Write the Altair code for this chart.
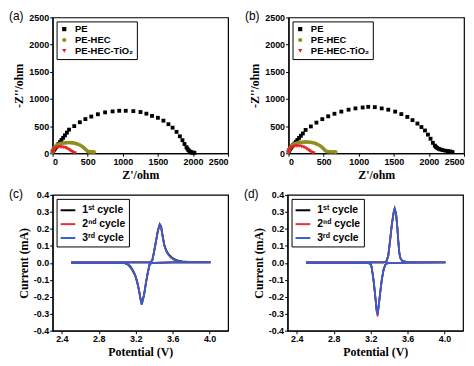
import altair as alt
import pandas as pd

# ---------------- Nyquist data (a) ----------------
a_pe_x = [0, 5, 12, 22, 35, 50, 66, 84, 104, 126, 150, 176, 204, 234, 308, 388, 467, 551, 645, 748, 855, 949, 1042,
          1150, 1252, 1336, 1416, 1500, 1579, 1650, 1710, 1766, 1813, 1850, 1879, 1907, 1920, 1935, 1950, 1963, 1975,
          1990, 2005, 2020]
a_pe_y = [30, 40, 52, 68, 88, 112, 140, 172, 205, 245, 285, 330, 380, 435, 500, 571, 629, 676, 718, 753, 771, 782, 782,
          776, 759, 729, 688, 653, 600, 535, 471, 394, 312, 241, 171, 112, 85, 59, 38, 24, 16, 12, 10, 9]
a_hec_x = [0, 5, 12, 22, 35, 50, 68, 88, 110, 135, 160, 185, 210, 240, 270, 300, 330, 360, 390, 415, 440, 460, 480,
           495, 510, 530, 550, 570, 590]
a_hec_y = [20, 45, 70, 95, 118, 138, 155, 168, 178, 186, 191, 194, 196, 196, 194, 189, 180, 167, 150, 132, 108, 85, 58,
           40, 30, 28, 27, 26, 24]
a_ti_x = [0, 5, 12, 22, 35, 50, 68, 88, 110, 132, 155, 178, 200, 220, 240, 258, 275, 290, 305, 320]
a_ti_y = [15, 35, 55, 72, 87, 98, 107, 112, 115, 114, 110, 102, 90, 77, 60, 44, 30, 18, 8, 3]

# ---------------- Nyquist data (b) ----------------
b_pe_x = [0, 5, 12, 22, 35, 50, 66, 84, 104, 126, 150, 176, 204, 243, 318, 397, 481, 565, 654, 752, 855, 953, 1056,
          1135, 1229, 1327, 1421, 1519, 1607, 1692, 1766, 1836, 1893, 1944, 1986, 2023, 2056, 2084, 2100, 2117, 2140,
          2164, 2195, 2234, 2270, 2304, 2336]
b_pe_y = [30, 45, 60, 80, 100, 125, 152, 180, 212, 245, 282, 322, 365, 430, 494, 564, 628, 680, 727, 767, 802, 826, 843,
          855, 849, 826, 802, 767, 721, 669, 610, 547, 483, 419, 343, 267, 192, 140, 118, 99, 82, 70, 58, 47, 40, 35,
          23]
b_hec_x = [0, 5, 12, 22, 35, 50, 70, 92, 115, 140, 170, 200, 230, 262, 295, 325, 355, 385, 415, 445, 470, 495, 515,
           535, 560, 590, 620, 650, 670]
b_hec_y = [25, 50, 75, 100, 122, 142, 160, 175, 186, 195, 201, 205, 207, 207, 205, 200, 192, 180, 163, 142, 118, 90, 62,
           40, 30, 28, 27, 26, 24]
b_ti_x = [0, 5, 12, 22, 35, 50, 68, 88, 110, 135, 160, 185, 210, 235, 258, 280, 300, 320, 340, 360]
b_ti_y = [15, 38, 60, 80, 97, 110, 120, 127, 131, 132, 130, 124, 113, 98, 80, 60, 42, 25, 12, 4]

nyq_series = ["PE", "PE-HEC", "PE-HEC-TiO\u2082"]
nyq_colors = ["#000000", "#8f8f1f", "#e32222"]
nyq_shapes = ["square", "circle", "triangle-down"]
nyq_ticks = [0, 500, 1000, 1500, 2000, 2500]

# ---------------- CV data (c) ----------------
cycles = ["1\u02e2\u1d57 cycle", "2\u207f\u1d48 cycle", "3\u02b3\u1d48 cycle"]
cycle_colors = ["#000000", "#e8303a", "#2f5fd0"]

c1_v = [2.50, 3.00, 3.30, 3.36, 3.38, 3.40, 3.42, 3.44, 3.46, 3.475, 3.49, 3.51, 3.53, 3.55, 3.58, 3.61, 3.65, 3.70,
        3.80, 4.00, 4.00, 3.60, 3.40, 3.36, 3.35, 3.33, 3.31, 3.29, 3.265, 3.25, 3.235, 3.22, 3.20, 3.18, 3.16, 3.14,
        3.12, 3.10, 3.08, 3.00, 2.50]
c1_i = [0.002, 0.002, 0.002, 0.004, 0.016, 0.07, 0.13, 0.19, 0.228, 0.215, 0.165, 0.105, 0.075, 0.055, 0.036, 0.024,
        0.015, 0.008, 0.004, 0.004, 0.003, 0.002, 0.0, -0.003, -0.01, -0.06, -0.12, -0.19, -0.24, -0.205, -0.16, -0.125,
        -0.085, -0.06, -0.04, -0.024, -0.013, -0.006, -0.002, 0.0, 0.0]
c2_v = [2.50, 3.00, 3.30, 3.36, 3.38, 3.40, 3.42, 3.44, 3.46, 3.475, 3.49, 3.51, 3.53, 3.55, 3.58, 3.61, 3.65, 3.70,
        3.80, 4.00, 4.00, 3.60, 3.40, 3.36, 3.35, 3.33, 3.31, 3.29, 3.265, 3.25, 3.235, 3.22, 3.20, 3.18, 3.16, 3.14,
        3.12, 3.10, 3.08, 3.00, 2.50]
c2_i = [0.002, 0.002, 0.002, 0.004, 0.015, 0.068, 0.128, 0.188, 0.224, 0.21, 0.16, 0.10, 0.07, 0.05, 0.032, 0.02,
        0.012, 0.006, 0.004, 0.004, 0.003, 0.002, 0.0, -0.003, -0.01, -0.06, -0.12, -0.19, -0.248, -0.21, -0.16, -0.12,
        -0.08, -0.055, -0.035, -0.02, -0.01, -0.004, -0.001, 0.0, 0.0]
c3_v = [2.50, 3.00, 3.30, 3.36, 3.38, 3.40, 3.42, 3.44, 3.46, 3.475, 3.49, 3.51, 3.53, 3.55, 3.58, 3.61, 3.65, 3.70,
        3.80, 4.00, 4.00, 3.60, 3.40, 3.36, 3.35, 3.33, 3.31, 3.29, 3.265, 3.25, 3.235, 3.22, 3.20, 3.18, 3.16, 3.14,
        3.12, 3.10, 3.08, 3.00, 2.50]
c3_i = [0.002, 0.002, 0.002, 0.004, 0.015, 0.068, 0.128, 0.188, 0.222, 0.208, 0.158, 0.10, 0.07, 0.05, 0.032, 0.02,
        0.012, 0.006, 0.004, 0.004, 0.003, 0.002, 0.0, -0.003, -0.01, -0.06, -0.12, -0.19, -0.246, -0.21, -0.16, -0.12,
        -0.08, -0.055, -0.035, -0.02, -0.01, -0.004, -0.001, 0.0, 0.0]

# ---------------- CV data (d) ----------------
d1_v = [2.50, 3.00, 3.34, 3.37, 3.39, 3.41, 3.43, 3.45, 3.46, 3.475, 3.49, 3.50, 3.51, 3.52, 3.54, 3.58, 3.70, 4.00,
        4.00, 3.60, 3.40, 3.38, 3.36, 3.34, 3.32, 3.30, 3.285, 3.275, 3.265, 3.25, 3.235, 3.22, 3.21, 3.20, 3.18, 3.00,
        2.50]
d1_i = [0.002, 0.002, 0.003, 0.008, 0.04, 0.13, 0.23, 0.30, 0.318, 0.29, 0.20, 0.12, 0.06, 0.03, 0.012, 0.005, 0.003,
        0.003, 0.002, 0.001, 0.0, -0.003, -0.01, -0.04, -0.10, -0.19, -0.26, -0.30, -0.28, -0.20, -0.12, -0.06, -0.025,
        -0.008, -0.002, 0.0, 0.0]
d2_v = d1_v
d2_i = [0.002, 0.002, 0.003, 0.008, 0.04, 0.13, 0.23, 0.30, 0.32, 0.29, 0.20, 0.12, 0.06, 0.03, 0.012, 0.005, 0.003,
        0.003, 0.002, 0.001, 0.0, -0.003, -0.01, -0.04, -0.10, -0.19, -0.265, -0.315, -0.285, -0.20, -0.12, -0.06,
        -0.025, -0.008, -0.002, 0.0, 0.0]
d3_v = d1_v
d3_i = [0.002, 0.002, 0.003, 0.008, 0.04, 0.13, 0.23, 0.30, 0.32, 0.29, 0.20, 0.12, 0.06, 0.03, 0.012, 0.005, 0.003,
        0.003, 0.002, 0.001, 0.0, -0.003, -0.01, -0.04, -0.10, -0.19, -0.26, -0.305, -0.28, -0.20, -0.12, -0.06,
        -0.025, -0.008, -0.002, 0.0, 0.0]

cv_xticks = [2.4, 2.8, 3.2, 3.6, 4.0]
cv_yticks = [-0.4, -0.3, -0.2, -0.1, 0.0, 0.1, 0.2, 0.3, 0.4]

W, H = 177, 137
MINUS_FIX = "replace(format(datum.value, '.1f'), '\u2212', '-')"


def panel_label(text, dx):
    return alt.Chart(pd.DataFrame({"t": [text]})).mark_text(
        align="left", baseline="top", font="Liberation Sans", fontSize=12, color="black"
    ).encode(text="t:N", x=alt.value(dx), y=alt.value(-6))


def nyquist(pe_x, pe_y, hec_x, hec_y, ti_x, ti_y, label):
    rows = []
    for name, xs, ys in zip(nyq_series, [pe_x, hec_x, ti_x], [pe_y, hec_y, ti_y]):
        for x, y in zip(xs, ys):
            rows.append({"Z": x, "Zi": y, "series": name})
    df = pd.DataFrame(rows)
    pts = alt.Chart(df).mark_point(filled=True, opacity=1, size=15).encode(
        x=alt.X("Z:Q", scale=alt.Scale(domain=[0, 2500], nice=False),
                axis=alt.Axis(values=nyq_ticks, title="Z'/ohm", format="d")),
        y=alt.Y("Zi:Q", scale=alt.Scale(domain=[0, 2500], nice=False),
                axis=alt.Axis(values=nyq_ticks, title="-Z''/ohm", format="d")),
        color=alt.Color("series:N", scale=alt.Scale(domain=nyq_series, range=nyq_colors),
                        legend=alt.Legend(title=None, symbolSize=18, labelFontSize=9.5, rowPadding=0)),
        shape=alt.Shape("series:N", scale=alt.Scale(domain=nyq_series, range=nyq_shapes),
                        legend=alt.Legend(title=None, symbolSize=18, labelFontSize=9.5, rowPadding=0)),
    )
    return alt.layer(pts, panel_label(label, -44)).properties(width=W, height=H)


def cv(vs, is_, label):
    rows = []
    for name, v, i in zip(cycles, vs, is_):
        for k, (a, b) in enumerate(zip(v, i)):
            rows.append({"V": a, "I": b, "cycle": name, "k": k})
    df = pd.DataFrame(rows)
    ln = alt.Chart(df).mark_line(strokeWidth=1.8, clip=True).encode(
        x=alt.X("V:Q", scale=alt.Scale(domain=[2.3, 4.2], nice=False),
                axis=alt.Axis(values=cv_xticks, title="Potential (V)", format=".1f")),
        y=alt.Y("I:Q", scale=alt.Scale(domain=[-0.4, 0.4], nice=False),
                axis=alt.Axis(values=cv_yticks, title="Current (mA)", labelExpr=MINUS_FIX)),
        color=alt.Color("cycle:N", scale=alt.Scale(domain=cycles, range=cycle_colors),
                        legend=alt.Legend(title=None, symbolType="stroke", symbolSize=220,
                                          symbolStrokeWidth=2, labelFontSize=10.5, rowPadding=0)),
        order="k:Q",
    )
    return alt.layer(ln, panel_label(label, -44)).properties(width=W, height=H)


pa = nyquist(a_pe_x, a_pe_y, a_hec_x, a_hec_y, a_ti_x, a_ti_y, "(a)")
pb = nyquist(b_pe_x, b_pe_y, b_hec_x, b_hec_y, b_ti_x, b_ti_y, "(b)")
pc = cv([c1_v, c2_v, c3_v], [c1_i, c2_i, c3_i], "(c)")
pd_ = cv([d1_v, d2_v, d3_v], [d1_i, d2_i, d3_i], "(d)")

top = alt.hconcat(pa, pb, spacing=14).resolve_scale(color="independent", shape="independent")
bottom = alt.hconcat(pc, pd_, spacing=14).resolve_scale(color="independent")

chart = alt.vconcat(top, bottom, spacing=6).resolve_scale(
    color="independent", shape="independent"
).properties(padding=0).configure_view(
    stroke="black", strokeWidth=1.2
).configure_axis(
    grid=False, domainColor="black", domainWidth=1.2, tickColor="black", tickSize=3, tickWidth=1,
    labelFont="Liberation Sans", labelFontWeight="bold", labelFontSize=9, labelColor="black", labelPadding=1,
    titleFont="Liberation Serif", titleFontWeight="bold", titleFontSize=12, titleColor="black", titlePadding=3,
).configure_legend(
    orient="top-left", offset=4, strokeColor="black", fillColor="white", padding=3, cornerRadius=0,
    labelFont="Liberation Sans", labelFontWeight="bold", labelColor="black", labelOffset=6,
)

chart.save("out.html", embed_options={"renderer": "svg", "actions": False})
